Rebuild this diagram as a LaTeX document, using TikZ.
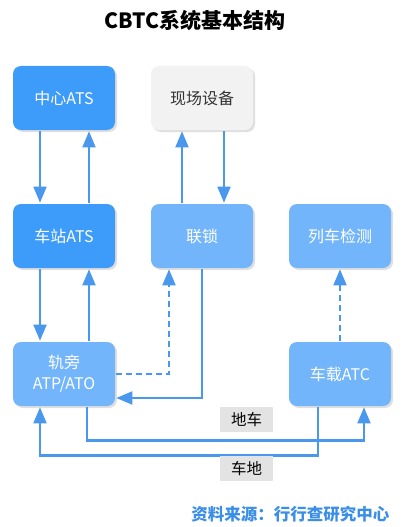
\documentclass[tikz,border=0pt]{standalone}
\usepackage{fontspec}
\setmainfont{Noto Sans CJK SC}
\usepackage{tikz}
\usetikzlibrary{arrows,shadows,calc}

\definecolor{deepblue}{HTML}{3D9BFA}
\definecolor{lightblue}{HTML}{72B5FA}
\definecolor{fieldgray}{HTML}{F2F2F2}
\definecolor{linkblue}{HTML}{4A97EE}
\definecolor{srcblue}{HTML}{3B8EE6}

\tikzset{
  unit/.style={rounded corners=8pt,minimum width=102pt,minimum height=64pt,
    align=center,font=\fontsize{16}{19}\selectfont,text=white,
    drop shadow={shadow xshift=2pt,shadow yshift=-2pt,opacity=0.25,fill=gray}},
  tag/.style={fill=gray!22,minimum width=53pt,minimum height=25pt,
    font=\fontsize{15.5}{17}\selectfont}
}

\begin{document}
\begin{tikzpicture}[node distance=138pt,line width=2.8pt,>=triangle 45]
      \useasboundingbox (0,0) rectangle (410pt,-527pt);
      \node at (195pt,-20pt) {\fontsize{21}{24}\selectfont\bfseries CBTC系统基本结构};
      \node (zxATS) [unit,fill=deepblue] at (64pt,-98pt) {中心ATS};
      \node (xcsb) [unit,fill=fieldgray,text=black!80,right of=zxATS] {现场设备};
      \node (czATS) [unit,fill=deepblue,below of=zxATS] {车站ATS};
      \node (ls) [unit,fill=lightblue,right of=czATS] {联锁};
      \node (lcjc) [unit,fill=lightblue,right of=ls] {列车检测};
      \node (gpATP) [unit,fill=lightblue,below of=czATS,font=\fontsize{16}{21}\selectfont] {轨旁\\ATP/ATO};
      \node (czATC) [unit,fill=lightblue,below of=lcjc] {车载ATC};
      \begin{scope}[draw=linkblue,color=linkblue]
      \draw[->] ([xshift=-24pt]zxATS.south) -- ([xshift=-24pt]czATS.north);
      \draw[->] ([xshift=25pt]czATS.north) -- ([xshift=25pt]zxATS.south);
      \draw[->] ([xshift=-20pt]ls.north) -- ([xshift=-20pt]xcsb.south);
      \draw[->] ([xshift=22pt]xcsb.south) -- ([xshift=22pt]ls.north);
      \draw[->] ([xshift=-24pt]czATS.south) -- ([xshift=-24pt]gpATP.north);
      \draw[->] ([xshift=25pt]gpATP.north) -- ([xshift=25pt]czATS.south);
      \draw[->,dash pattern=on 6pt off 4pt] (gpATP.east) -| ([xshift=-33pt]ls.south);
      \draw[->] (ls.south) |- ([yshift=-24pt]gpATP.east);
      \draw[->,dash pattern=on 6pt off 4pt] (czATC.north) -- (lcjc.south);
      \draw[->] ([xshift=23pt]gpATP.south) -- ++(0,-33pt) -| ([xshift=24pt]czATC.south);
      \draw[->] ([xshift=-22pt]czATC.south) -- ++(0,-48pt) -| ([xshift=-24pt]gpATP.south);
      \end{scope}
      \node (dc) [tag] at (246.5pt,-419.5pt) {地车};
      \node (cd) [tag] at (246.5pt,-468.5pt) {车地};
      \node (src) [anchor=east,text=srcblue] at (394pt,-514pt) {\fontsize{16.5}{19}\selectfont\bfseries 资料来源：行行查研究中心};
    \end{tikzpicture}
\end{document}
